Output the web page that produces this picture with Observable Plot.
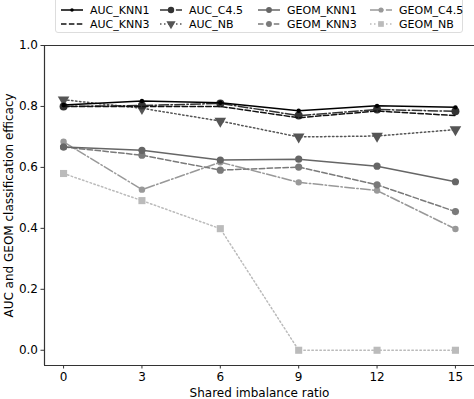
<!DOCTYPE html>
<html><head><meta charset="utf-8">
<script src="https://cdn.jsdelivr.net/npm/d3@7"></script>
<script src="https://cdn.jsdelivr.net/npm/@observablehq/plot@0.6"></script>
<style>
body{margin:0;background:#fff;font-family:"DejaVu Sans",sans-serif;}
#wrap{position:relative;width:474px;height:399px;overflow:hidden;}
#legend{position:absolute;left:55px;top:-1px;width:408px;height:34px;border:1px solid #ddd;border-radius:0 0 3px 3px;background:#fff;font-size:11px;color:#000;box-sizing:border-box;}
.it{position:absolute;display:flex;align-items:center;white-space:nowrap;height:14px;}
.it svg{margin-right:6px;}
</style></head><body>
<div id="wrap"><div id="chart"></div><div id="legend"></div></div>
<script>
const ratios = [0, 3, 6, 9, 12, 15];
const seriesNames = ["AUC_KNN1","AUC_KNN3","AUC_C4.5","AUC_NB","GEOM_KNN1","GEOM_KNN3","GEOM_C4.5","GEOM_NB"];
const AUC_KNN1 = [0.805, 0.818, 0.812, 0.786, 0.802, 0.797];
const AUC_KNN3 = [0.800, 0.800, 0.800, 0.763, 0.785, 0.770];
const AUC_C45  = [0.800, 0.803, 0.810, 0.770, 0.790, 0.784];
const AUC_NB   = [0.822, 0.794, 0.752, 0.700, 0.703, 0.724];
const GEOM_KNN1 = [0.667, 0.656, 0.624, 0.627, 0.604, 0.553];
const GEOM_KNN3 = [0.667, 0.640, 0.591, 0.601, 0.543, 0.455];
const GEOM_C45  = [0.684, 0.527, 0.617, 0.551, 0.524, 0.398];
const GEOM_NB   = [0.580, 0.491, 0.399, 0.0, 0.0, 0.0];
const yTicks = [0.0, 0.2, 0.4, 0.6, 0.8, 1.0];

const values = [AUC_KNN1, AUC_KNN3, AUC_C45, AUC_NB, GEOM_KNN1, GEOM_KNN3, GEOM_C45, GEOM_NB];
const styles = {
  "AUC_KNN1": {color:"#000000", dash:null, symbol:"circle", r:2.2, rot:0},
  "AUC_KNN3": {color:"#111111", dash:"5.5,2.4", symbol:null, r:0, rot:0},
  "AUC_C4.5": {color:"#333333", dash:"9.6,2.4,1.5,2.4", symbol:"circle", r:4, rot:0},
  "AUC_NB":   {color:"#555555", dash:"1.5,2.5", symbol:"triangle", r:4.3, rot:180},
  "GEOM_KNN1":{color:"#666666", dash:null, symbol:"circle", r:3.6, rot:0},
  "GEOM_KNN3":{color:"#7a7a7a", dash:"5.5,2.4", symbol:"circle", r:3.6, rot:0},
  "GEOM_C4.5":{color:"#999999", dash:"9.6,2.4,1.5,2.4", symbol:"circle", r:3.2, rot:0},
  "GEOM_NB":  {color:"#bbbbbb", dash:"1.5,2.5", symbol:"square", r:4, rot:0}
};
const data = [];
seriesNames.forEach((s, i) => ratios.forEach((x, j) => data.push({series: s, x, y: values[i][j]})));

const marks = [];
seriesNames.slice().reverse().forEach(s => {
  const st = styles[s];
  const d = data.filter(e => e.series === s);
  marks.push(Plot.line(d, {x:"x", y:"y", stroke: st.color, strokeWidth: 1.5, strokeDasharray: st.dash || undefined}));
  if (st.symbol) marks.push(Plot.dot(d, {x:"x", y:"y", fill: st.color, stroke: "none", symbol: st.symbol, r: st.r, rotate: st.rot}));
});

const chart = Plot.plot({
  width: 474, height: 399,
  marginLeft: 44, marginRight: 0, marginTop: 45, marginBottom: 34,
  style: {fontFamily: "DejaVu Sans, sans-serif", fontSize: "12px", color: "#000", background: "#fff"},
  x: {domain: [-0.73, 15.73]},
  y: {domain: [-0.05, 1.0]},
  marks: [
    Plot.ruleY([-0.05], {stroke: "#333", strokeWidth: 1.2}),
    Plot.ruleY([1.0], {stroke: "#333", strokeWidth: 1.2}),
    Plot.ruleX([-0.73], {stroke: "#333", strokeWidth: 1.2}),
    Plot.axisX({ticks: ratios, tickSize: 3.5, tickPadding: 3, fontSize: 12, label: "Shared imbalance ratio", labelAnchor: "center", labelArrow: "none", labelOffset: 31, stroke: "#333"}),
    Plot.axisY({ticks: yTicks, tickFormat: d3.format(".1f"), tickSize: 3.5, tickPadding: 3, fontSize: 12, label: "AUC and GEOM classification efficacy", labelAnchor: "center", labelArrow: "none", labelOffset: 40, stroke: "#333"}),
    ...marks
  ]
});
document.getElementById("chart").appendChild(chart);

// legend
const order = ["AUC_KNN1","AUC_C4.5","GEOM_KNN1","GEOM_C4.5","AUC_KNN3","AUC_NB","GEOM_KNN3","GEOM_NB"];
const colX = [4, 103, 201, 313];
const rowY = [3, 17];
const lg = document.getElementById("legend");
order.forEach((s, i) => {
  const st = styles[s];
  const div = document.createElement("div");
  div.className = "it";
  div.style.left = colX[i % 4] + "px";
  div.style.top = rowY[Math.floor(i / 4)] + "px";
  const ns = "http://www.w3.org/2000/svg";
  const sv = document.createElementNS(ns, "svg");
  sv.setAttribute("width", 24); sv.setAttribute("height", 12);
  sv.style.flex = "none";
  const ln = document.createElementNS(ns, "line");
  ln.setAttribute("x1", 1); ln.setAttribute("x2", 23); ln.setAttribute("y1", 6); ln.setAttribute("y2", 6);
  ln.setAttribute("stroke", st.color); ln.setAttribute("stroke-width", 1.5);
  if (st.dash) ln.setAttribute("stroke-dasharray", st.dash);
  sv.appendChild(ln);
  if (st.symbol) {
    const p = document.createElementNS(ns, "path");
    const sym = {circle: d3.symbolCircle, triangle: d3.symbolTriangle, square: d3.symbolSquare}[st.symbol];
    const r = st.r * 0.8;
    p.setAttribute("d", d3.symbol(sym, Math.PI * r * r)());
    p.setAttribute("transform", `translate(12,6) rotate(${st.rot})`);
    p.setAttribute("fill", st.color);
    sv.appendChild(p);
  }
  div.appendChild(sv);
  div.appendChild(document.createTextNode(s));
  lg.appendChild(div);
});
</script>
</body></html>
